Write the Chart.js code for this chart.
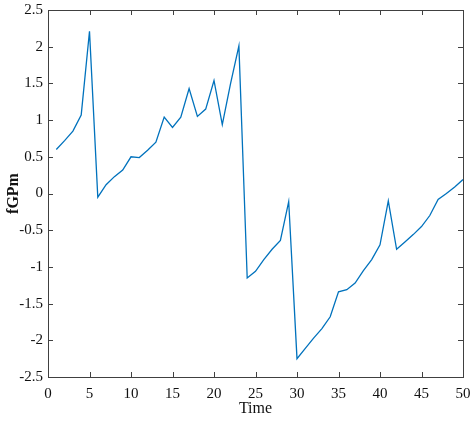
<!DOCTYPE html>
<html>
<head>
<meta charset="utf-8">
<script src="https://cdn.jsdelivr.net/npm/chart.js@4/dist/chart.umd.min.js"></script>
<style>
  html, body { margin: 0; padding: 0; background: #fff; }
  #wrap { width: 474px; height: 422px; }
</style>
</head>
<body>
<div id="wrap"><canvas id="chart" width="474" height="422"></canvas></div>
<script>
// Time steps 1..50
const timeSteps = [1, 2, 3, 4, 5, 6, 7, 8, 9, 10, 11, 12, 13, 14, 15, 16, 17, 18, 19, 20,
  21, 22, 23, 24, 25, 26, 27, 28, 29, 30, 31, 32, 33, 34, 35, 36, 37, 38, 39, 40,
  41, 42, 43, 44, 45, 46, 47, 48, 49, 50];

// fGPm values
const fgpmValues = [0.60, 0.72, 0.85, 1.07, 2.21, -0.05, 0.12, 0.23, 0.32, 0.50,
  0.49, 0.59, 0.70, 1.04, 0.90, 1.04, 1.43, 1.05, 1.15, 1.54,
  0.94, 1.50, 2.01, -1.15, -1.06, -0.90, -0.76, -0.64, -0.11, -2.25,
  -2.11, -1.97, -1.84, -1.68, -1.34, -1.31, -1.22, -1.05, -0.90, -0.70,
  -0.10, -0.76, -0.66, -0.56, -0.45, -0.30, -0.08, 0.00, 0.09, 0.19];

const xTicks = [0, 5, 10, 15, 20, 25, 30, 35, 40, 45, 50];
const yTicks = [-2.5, -2, -1.5, -1, -0.5, 0, 0.5, 1, 1.5, 2, 2.5];

const serif = "'Liberation Serif', 'Times New Roman', serif";
const axisColor = '#404040';

// box and inward ticks, MATLAB style
const boxTicks = {
    id: 'boxTicks',
    afterDraw(chart) {
        const { ctx, chartArea: a, scales } = chart;
        ctx.save();
        ctx.strokeStyle = axisColor;
        ctx.lineWidth = 1;
        ctx.strokeRect(a.left + 0.5, a.top + 0.5, a.right - a.left, a.bottom - a.top);
        const len = 5;
        ctx.beginPath();
        xTicks.forEach(v => {
            const px = Math.round(scales.x.getPixelForValue(v)) + 0.5;
            ctx.moveTo(px, a.bottom); ctx.lineTo(px, a.bottom - len);
            ctx.moveTo(px, a.top); ctx.lineTo(px, a.top + len);
        });
        yTicks.forEach(v => {
            const py = Math.round(scales.y.getPixelForValue(v)) + 0.5;
            ctx.moveTo(a.left, py); ctx.lineTo(a.left + len, py);
            ctx.moveTo(a.right, py); ctx.lineTo(a.right - len, py);
        });
        ctx.stroke();
        ctx.restore();
    }
};

new Chart(document.getElementById('chart'), {
    type: 'line',
    data: {
        datasets: [{
            data: timeSteps.map((t, i) => ({ x: t, y: fgpmValues[i] })),
            borderColor: '#0072BD',
            borderWidth: 1.3,
            pointRadius: 0,
            tension: 0,
            fill: false
        }]
    },
    options: {
        responsive: false,
        animation: false,
        devicePixelRatio: 1,
        layout: { padding: { top: 10, right: 11, left: 0, bottom: 0 } },
        plugins: { legend: { display: false }, tooltip: { enabled: false } },
        scales: {
            x: {
                type: 'linear',
                min: 0, max: 50,
                afterBuildTicks: s => { s.ticks = xTicks.map(v => ({ value: v })); },
                afterFit: s => { s.height = 45; s.paddingLeft = 0; s.paddingRight = 0; },
                grid: { display: false, drawTicks: false },
                border: { display: false },
                ticks: {
                    color: '#111',
                    padding: 8,
                    maxRotation: 0,
                    font: { family: serif, size: 15 }
                },
                title: {
                    display: true,
                    text: 'Time',
                    color: '#111',
                    padding: { top: 2 },
                    font: { family: serif, size: 16 }
                }
            },
            y: {
                type: 'linear',
                min: -2.5, max: 2.5,
                afterBuildTicks: s => { s.ticks = yTicks.map(v => ({ value: v })); },
                afterFit: s => { s.width = 48; s.paddingTop = 0; s.paddingBottom = 0; },
                grid: { display: false, drawTicks: false },
                border: { display: false },
                ticks: {
                    color: '#111',
                    padding: 5,
                    font: { family: serif, size: 15 },
                    callback: v => String(v)
                },
                title: {
                    display: true,
                    text: 'fGPm',
                    color: '#111',
                    padding: { bottom: 0 },
                    font: { family: serif, size: 16, weight: 'bold' }
                }
            }
        }
    },
    plugins: [boxTicks]
});
</script>
</body>
</html>
